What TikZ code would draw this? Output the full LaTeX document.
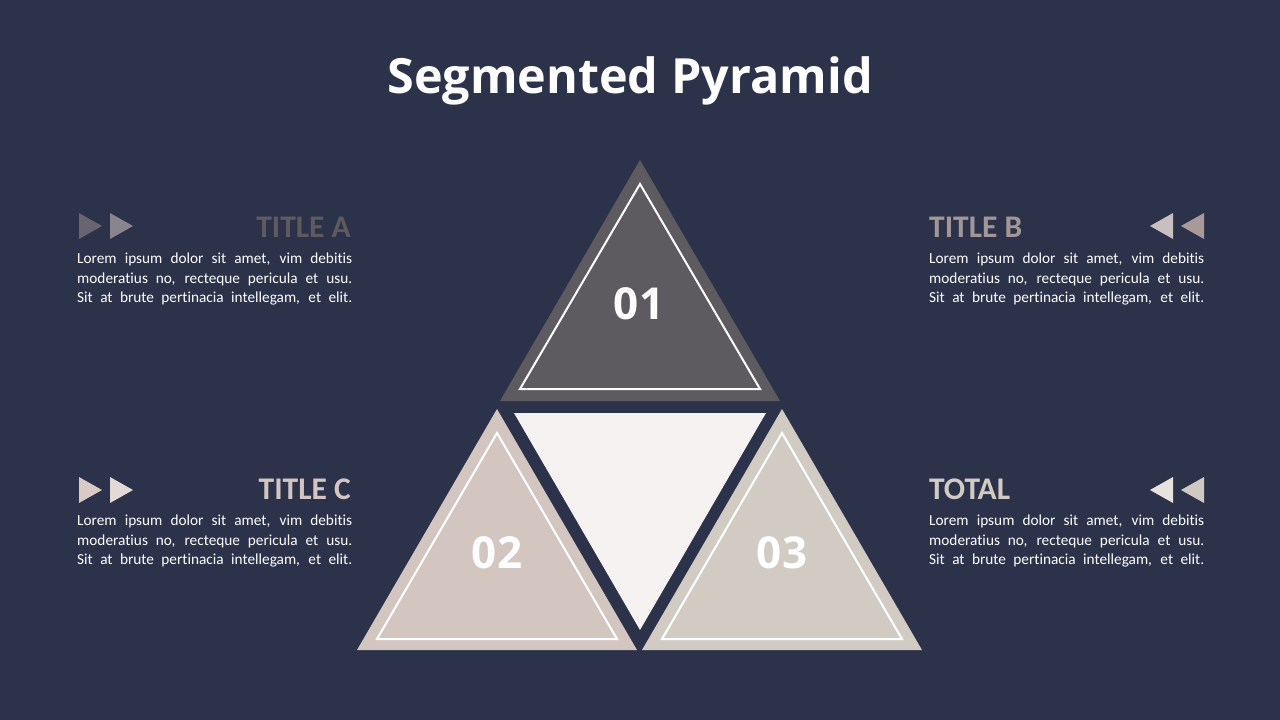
\documentclass[tikz,border=0pt]{standalone}
\usepackage{fontspec}
\setmainfont{Carlito}[Ligatures=NoCommon]
\newfontfamily\headfont{Open Sans}
\definecolor{bg}{HTML}{2B3249}
\definecolor{cone}{HTML}{5D5A60}
\definecolor{ctwo}{HTML}{D3C6C1}
\definecolor{cthree}{HTML}{D1CBC4}
\definecolor{cmid}{HTML}{F5F2F1}
\definecolor{ctitleb}{HTML}{A39696}
\definecolor{arAa}{HTML}{686470}
\definecolor{arAb}{HTML}{8A848E}
\definecolor{arBa}{HTML}{C8C0BE}
\definecolor{arBb}{HTML}{A89A98}
\definecolor{arCa}{HTML}{D9CAC4}
\definecolor{arCb}{HTML}{E4DAD5}
\definecolor{arDa}{HTML}{E6E2DD}
\definecolor{arDb}{HTML}{D0C9C1}
\tikzset{
  outline/.style={draw=white, line width=2pt, line join=miter},
  num/.style={text=white, font=\headfont\bfseries\fontsize{44}{50}\selectfont, inner sep=0pt},
  ttl/.style={font=\bfseries\fontsize{31.5}{36}\selectfont, inner sep=0pt},
  body/.style={text=white, font=\fontsize{15.3}{19.3}\selectfont, inner sep=0pt, align=left, anchor=north west},
}
\newcommand{\jl}[1]{\strut\makebox[275pt][s]{#1}}
\begin{document}
\begin{tikzpicture}[x=1pt,y=-1pt]
\fill[bg] (0,0) rectangle (1280,720);
\useasboundingbox (0,0) rectangle (1280,720);
\node[text=white, font=\headfont\bfseries\fontsize{48.5}{56}\selectfont, inner sep=0pt, anchor=base] (title) at (630,93) {Segmented Pyramid};
% triangles
\fill[cone] (640,160) -- (780,401) -- (500,401) -- cycle;
\draw[outline] (640,184) -- (760,389) -- (520,389) -- cycle;
\fill[ctwo] (497,409) -- (637,650) -- (357,650) -- cycle;
\draw[outline] (497,433) -- (617,639) -- (377,639) -- cycle;
\fill[cthree] (782,409) -- (922,650) -- (642,650) -- cycle;
\draw[outline] (782,433) -- (902,639) -- (662,639) -- cycle;
\fill[cmid] (514,413) -- (766,413) -- (640,630) -- cycle;
\node[num] (n1) at (639,304) {01};
\node[num] (n2) at (497,553) {02};
\node[num] (n3) at (782,553) {03};
% arrows
\fill[arAa] (79,213) -- (102,226) -- (79,239) -- cycle;
\fill[arAb] (110,213) -- (133,226) -- (110,239) -- cycle;
\fill[arBa] (1173,213) -- (1150,226) -- (1173,239) -- cycle;
\fill[arBb] (1204,213) -- (1181,226) -- (1204,239) -- cycle;
\fill[arCa] (79,477) -- (102,490) -- (79,503) -- cycle;
\fill[arCb] (110,477) -- (133,490) -- (110,503) -- cycle;
\fill[arDa] (1173,477) -- (1150,490) -- (1173,503) -- cycle;
\fill[arDb] (1204,477) -- (1181,490) -- (1204,503) -- cycle;
% titles
\node[ttl, text=cone, anchor=base east] (ta) at (351,237) {TITLE A};
\node[ttl, text=ctitleb, anchor=base west] (tb) at (929,237) {TITLE B};
\node[ttl, text=ctwo, anchor=base east] (tc) at (351,499) {TITLE C};
\node[ttl, text=cthree, anchor=base west] (td) at (929,499) {TOTAL};
% bodies
\node[body] (ba) at (77,250) {\jl{Lorem ipsum dolor sit amet, vim debitis}\\\jl{moderatius no, recteque pericula et usu.}\\\jl{Sit at brute pertinacia intellegam, et elit.}};
\node[body] (bb) at (929,250) {\jl{Lorem ipsum dolor sit amet, vim debitis}\\\jl{moderatius no, recteque pericula et usu.}\\\jl{Sit at brute pertinacia intellegam, et elit.}};
\node[body] (bc) at (77,512) {\jl{Lorem ipsum dolor sit amet, vim debitis}\\\jl{moderatius no, recteque pericula et usu.}\\\jl{Sit at brute pertinacia intellegam, et elit.}};
\node[body] (bd) at (929,512) {\jl{Lorem ipsum dolor sit amet, vim debitis}\\\jl{moderatius no, recteque pericula et usu.}\\\jl{Sit at brute pertinacia intellegam, et elit.}};
\end{tikzpicture}
\end{document}
